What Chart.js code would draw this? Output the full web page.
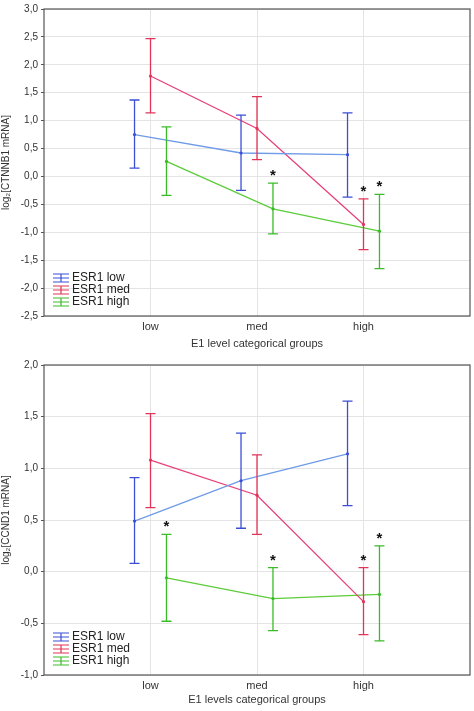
<!DOCTYPE html><html><head><script src="https://cdn.jsdelivr.net/npm/chart.js@4"></script>
<style>body{margin:0;background:#fff}canvas{display:block}</style></head><body>
<div style="width:474px;height:355px"><canvas id="c1"></canvas></div>
<div style="width:474px;height:356px"><canvas id="c2"></canvas></div>
<script>
const categories=['low','med','high'];
const seriesNames=['ESR1 low','ESR1 med','ESR1 high'];
const colors=['#3b4fd6','#e03558','#3cbb2a'];
const lineColors=['#6f9be8','#e8407a','#5ccc3a'];
const offsets=[-0.15,0,0.15];
// chart 1: CTNNB1
const c1Mean=[[0.75,0.42,0.39],[1.80,0.86,-0.86],[0.27,-0.58,-0.98]];
const c1Lo=[[0.15,-0.25,-0.37],[1.14,0.30,-1.31],[-0.34,-1.03,-1.65]];
const c1Hi=[[1.37,1.10,1.14],[2.47,1.43,-0.40],[0.89,-0.12,-0.32]];
const c1Star=[[0,0,0],[0,0,1],[0,1,1]];
// chart 2: CCND1
const c2Mean=[[0.49,0.88,1.14],[1.08,0.74,-0.29],[-0.06,-0.26,-0.22]];
const c2Lo=[[0.08,0.42,0.64],[0.62,0.36,-0.61],[-0.48,-0.57,-0.67]];
const c2Hi=[[0.91,1.34,1.65],[1.53,1.13,0.04],[0.36,0.04,0.25]];
const c2Star=[[0,0,0],[0,0,1],[1,1,1]];
const fmt=v=>v.toFixed(1).replace('.',',');
function make(id,mean,lo,hi,star,ymin,ymax,ytitle,xtitle,padTop,xH){
 const datasets=mean.map((m,s)=>({label:seriesNames[s],data:m.map((v,i)=>({x:i+1+offsets[s],y:v})),
  borderColor:lineColors[s],backgroundColor:colors[s],pointRadius:1.6,pointBorderWidth:0,borderWidth:1.3,showLine:true}));
 const eb={id:'eb',afterDatasetsDraw(ch){const c=ch.ctx,xs=ch.scales.x,ys=ch.scales.y;
  mean.forEach((m,s)=>m.forEach((v,i)=>{const x=xs.getPixelForValue(i+1+offsets[s]);
   const y1=ys.getPixelForValue(lo[s][i]),y2=ys.getPixelForValue(hi[s][i]);
   c.save();c.strokeStyle=colors[s];c.lineWidth=1.3;c.beginPath();
   c.moveTo(x,y1);c.lineTo(x,y2);c.moveTo(x-5,y1);c.lineTo(x+5,y1);c.moveTo(x-5,y2);c.lineTo(x+5,y2);c.stroke();
   if(star[s][i]){c.fillStyle='#111';c.font='bold 15px Arial';c.textAlign='center';c.fillText('*',x,y2-3);}
   c.restore();}));
  const a=ch.chartArea;let ly=a.bottom-38;c.save();c.font='12px "Liberation Sans",Arial';c.textBaseline='middle';
  seriesNames.forEach((n,s)=>{const y=ly+s*12;c.strokeStyle=colors[s];c.lineWidth=1.2;c.beginPath();
   c.moveTo(a.left+9,y);c.lineTo(a.left+25,y);c.moveTo(a.left+9,y-4);c.lineTo(a.left+25,y-4);c.moveTo(a.left+9,y+4);c.lineTo(a.left+25,y+4);
   c.moveTo(a.left+17,y-4);c.lineTo(a.left+17,y+4);c.stroke();c.fillStyle='#222';c.fillText(n,a.left+28,y);});
  c.restore();
  c.save();c.strokeStyle='#555';c.lineWidth=1.2;c.strokeRect(a.left,a.top,a.right-a.left,a.bottom-a.top);c.restore();
 }};
 new Chart(document.getElementById(id),{type:'scatter',data:{datasets},plugins:[eb],
  options:{animation:false,responsive:true,maintainAspectRatio:false,layout:{padding:{top:padTop,right:-4}},
   plugins:{legend:{display:false},tooltip:{enabled:false}},
   scales:{x:{min:0,max:4,afterBuildTicks:ax=>{ax.ticks=[0,1,2,3,4].map(v=>({value:v}));},afterFit:ax=>{ax.height=xH;},
     ticks:{callback:v=>categories[v-1]||'',color:'#333',font:{size:11,family:'Liberation Sans'},maxRotation:0,padding:4},
     grid:{color:c=>(c.tick&&c.tick.value>0&&c.tick.value<4)?'#e4e4e4':'rgba(0,0,0,0)',drawTicks:false},border:{display:false},
     title:{display:true,text:xtitle,color:'#333',font:{size:11,family:'Liberation Sans'},padding:{top:2}}},
    y:{min:ymin,max:ymax,afterFit:ax=>{ax.width=44;},ticks:{stepSize:0.5,callback:v=>fmt(v),color:'#333',font:{size:10,family:'Liberation Sans'},padding:3},
     grid:{color:'#e4e4e4',drawTicks:true,tickLength:3,tickColor:'#555'},border:{display:false},
     title:{display:true,text:ytitle,color:'#333',font:{size:10,family:'Liberation Sans'},padding:0}}}}});
}
make('c1',c1Mean,c1Lo,c1Hi,c1Star,-2.5,3,'log₂[CTNNB1 mRNA]','E1 level categorical groups',6,39);
make('c2',c2Mean,c2Lo,c2Hi,c2Star,-1,2,'log₂[CCND1 mRNA]','E1 levels categorical groups',10,36);
</script></body></html>
